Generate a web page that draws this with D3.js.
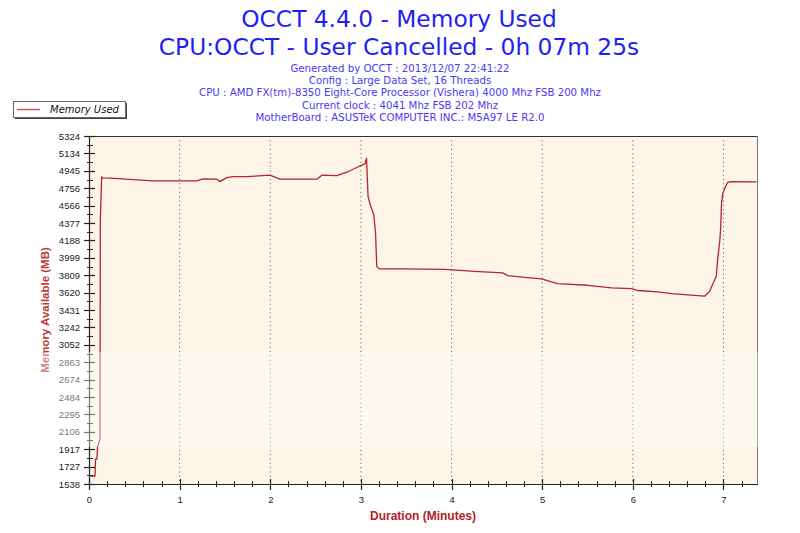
<!DOCTYPE html>
<html><head><meta charset="utf-8">
<script src="https://cdn.jsdelivr.net/npm/d3@7/dist/d3.min.js"></script>
<style>body{margin:0;background:#fff}svg{display:block}</style>
</head><body><svg id="c" width="800" height="533"></svg>
<script>
const titleLines = ["OCCT 4.4.0 - Memory Used", "CPU:OCCT - User Cancelled - 0h 07m 25s"];
const infoLines = [
  "Generated by OCCT : 2013/12/07 22:41:22",
  "Config : Large Data Set, 16 Threads",
  "CPU : AMD FX(tm)-8350 Eight-Core Processor (Vishera) 4000 Mhz FSB 200 Mhz",
  "Current clock : 4041 Mhz FSB 202 Mhz",
  "MotherBoard : ASUSTeK COMPUTER INC.: M5A97 LE R2.0"
];
const seriesName = "Memory Used";
const xTitle = "Duration (Minutes)";
const yTitle = "Memory Available (MB)";
const timeMin = [0, 0.066, 0.072, 0.088, 0.094, 0.121, 0.125, 0.14, 0.154, 0.232, 0.706, 1.19, 1.257, 1.411, 1.444, 1.521, 1.588, 1.742, 1.996, 2.106, 2.514, 2.569, 2.734, 2.845, 2.988, 3.043, 3.062, 3.079, 3.109, 3.142, 3.161, 3.175, 3.201, 3.484, 3.925, 4.256, 4.564, 4.62, 4.807, 4.995, 5.083, 5.171, 5.502, 5.766, 5.987, 6.053, 6.273, 6.428, 6.571, 6.792, 6.847, 6.88, 6.921, 6.935, 6.957, 6.968, 6.979, 6.993, 7.023, 7.045, 7.078, 7.365];
const memoryMB = [1625, 1625, 1809, 1809, 1939, 2026, 4413, 4879, 4868, 4866, 4836, 4836, 4858, 4854, 4828, 4871, 4882, 4882, 4898, 4854, 4854, 4898, 4893, 4930, 4998, 5020, 5082, 4666, 4557, 4467, 4272, 3906, 3878, 3878, 3874, 3852, 3835, 3805, 3787, 3769, 3743, 3718, 3700, 3672, 3664, 3643, 3628, 3610, 3599, 3581, 3635, 3708, 3798, 3979, 4160, 4304, 4594, 4702, 4774, 4817, 4828, 4825];
const yTickLabels = [1538, 1727, 1917, 2106, 2295, 2484, 2674, 2863, 3052, 3242, 3431, 3620, 3809, 3999, 4188, 4377, 4566, 4756, 4945, 5134, 5324];
const xTickLabels = [0, 1, 2, 3, 4, 5, 6, 7];
const xMinorStep = 0.2;
const xMax = 7.37;

const svg = d3.select("#c");
const L = 89, R = 757, T = 136, B = 484;
const x = d3.scaleLinear().domain([0, xMax]).range([L, R]);
const y = d3.scaleLinear().domain([yTickLabels[0], yTickLabels[yTickLabels.length - 1]]).range([B, T]);

// plot background
svg.append("rect").attr("x", L).attr("y", T).attr("width", R - L).attr("height", B - T).attr("fill", "#fdf5e7");

// vertical grid
svg.append("g").selectAll("line").data(xTickLabels.filter(d => d > 0)).join("line")
  .attr("x1", d => x(d)).attr("x2", d => x(d)).attr("y1", T).attr("y2", B)
  .attr("stroke", "#555").attr("stroke-width", 1).attr("stroke-dasharray", "1,3.3");

// borders
svg.append("line").attr("x1", L).attr("x2", R).attr("y1", T + 0.5).attr("y2", T + 0.5).attr("stroke", "#333");
svg.append("line").attr("x1", R + 0.5).attr("x2", R + 0.5).attr("y1", T).attr("y2", B).attr("stroke", "#777");

// series
const line = d3.line().x((d, i) => x(timeMin[i])).y(d => y(d));
svg.append("path").datum(memoryMB).attr("d", line).attr("fill", "none")
  .attr("stroke", "#b3262c").attr("stroke-width", 1.3).attr("stroke-linejoin", "round");

// Y axis
const yAxis = d3.axisLeft(y).tickValues(yTickLabels).tickSize(0).tickPadding(9).tickFormat(d3.format("d"));
const gy = svg.append("g").attr("transform", `translate(${L},0)`).call(yAxis);
gy.select(".domain").remove();
gy.selectAll("text").attr("font-family", "Liberation Sans, Arial, sans-serif").attr("font-size", 9.5).attr("fill", "#222");
svg.append("line").attr("x1", L + 0.5).attr("x2", L + 0.5).attr("y1", T).attr("y2", B + 1).attr("stroke", "#222").attr("stroke-width", 1.2);
svg.append("g").selectAll("line").data(yTickLabels).join("line")
  .attr("x1", L - 5).attr("x2", L + 6).attr("y1", d => Math.round(y(d)) + 0.5).attr("y2", d => Math.round(y(d)) + 0.5)
  .attr("stroke", "#222").attr("stroke-width", 1.2);
const yMinor = d3.pairs(yTickLabels).map(p => (p[0] + p[1]) / 2);
svg.append("g").selectAll("line").data(yMinor).join("line")
  .attr("x1", L - 2).attr("x2", L + 4).attr("y1", d => Math.round(y(d)) + 0.5).attr("y2", d => Math.round(y(d)) + 0.5)
  .attr("stroke", "#222").attr("stroke-width", 1);

// X axis
const xAxis = d3.axisBottom(x).tickValues(xTickLabels).tickSize(0).tickPadding(12).tickFormat(d3.format("d"));
const gx = svg.append("g").attr("transform", `translate(0,${B})`).call(xAxis);
gx.select(".domain").remove();
gx.selectAll("text").attr("font-family", "Liberation Sans, Arial, sans-serif").attr("font-size", 9.5).attr("fill", "#222");
svg.append("line").attr("x1", L).attr("x2", R + 1).attr("y1", B + 0.5).attr("y2", B + 0.5).attr("stroke", "#222").attr("stroke-width", 1.2);
svg.append("g").selectAll("line").data(xTickLabels).join("line")
  .attr("x1", d => Math.round(x(d)) + 0.5).attr("x2", d => Math.round(x(d)) + 0.5).attr("y1", B - 5).attr("y2", B + 6)
  .attr("stroke", "#222").attr("stroke-width", 1.2);
const xMinor = d3.range(xMinorStep, xMax, xMinorStep).filter(v => Math.abs(v - Math.round(v)) > 1e-6);
svg.append("g").selectAll("line").data(xMinor).join("line")
  .attr("x1", d => Math.round(x(d)) + 0.5).attr("x2", d => Math.round(x(d)) + 0.5).attr("y1", B - 3).attr("y2", B + 3)
  .attr("stroke", "#222").attr("stroke-width", 1);

// axis titles
svg.append("text").attr("x", (L + R) / 2 + 0).attr("y", 520).attr("text-anchor", "middle")
  .attr("font-family", "Liberation Sans, Arial, sans-serif").attr("font-weight", "bold").attr("font-size", 12)
  .attr("fill", "#b22228").text(xTitle);
svg.append("text").attr("transform", "translate(49,310) rotate(-90)").attr("text-anchor", "middle")
  .attr("font-family", "Liberation Sans, Arial, sans-serif").attr("font-weight", "bold").attr("font-size", 11.5)
  .attr("fill", "#b83a3a").text(yTitle);

// titles
svg.selectAll(".title").data(titleLines).join("text").attr("class", "title")
  .attr("x", 399).attr("y", (d, i) => 27 + i * 28).attr("text-anchor", "middle")
  .attr("font-family", "DejaVu Sans, sans-serif").attr("font-size", 23.3).attr("fill", "#1f1ff5").text(d => d);
svg.selectAll(".info").data(infoLines).join("text").attr("class", "info")
  .attr("x", 400).attr("y", (d, i) => 72 + i * 12.2).attr("text-anchor", "middle")
  .attr("font-family", "DejaVu Sans, sans-serif").attr("font-size", 10.2).attr("fill", "#4a3af0").text(d => d);

// legend
const lg = svg.append("g");
lg.append("rect").attr("x", 15).attr("y", 103).attr("width", 112).attr("height", 16).attr("fill", "#444");
lg.append("rect").attr("x", 13.5).attr("y", 101.5).attr("width", 112).attr("height", 16).attr("fill", "#fff").attr("stroke", "#666");
lg.append("line").attr("x1", 17).attr("x2", 40).attr("y1", 109.5).attr("y2", 109.5).attr("stroke", "#c0484e").attr("stroke-width", 1.3);
lg.append("text").attr("x", 50).attr("y", 113).attr("font-family", "DejaVu Sans, sans-serif").attr("font-style", "italic")
  .attr("font-size", 10).attr("fill", "#111").text(seriesName);

// watermark wash band
svg.append("rect").attr("x", 0).attr("y", 352).attr("width", 800).attr("height", 95).attr("fill", "#fff").attr("opacity", 0.38);
</script></body></html>
